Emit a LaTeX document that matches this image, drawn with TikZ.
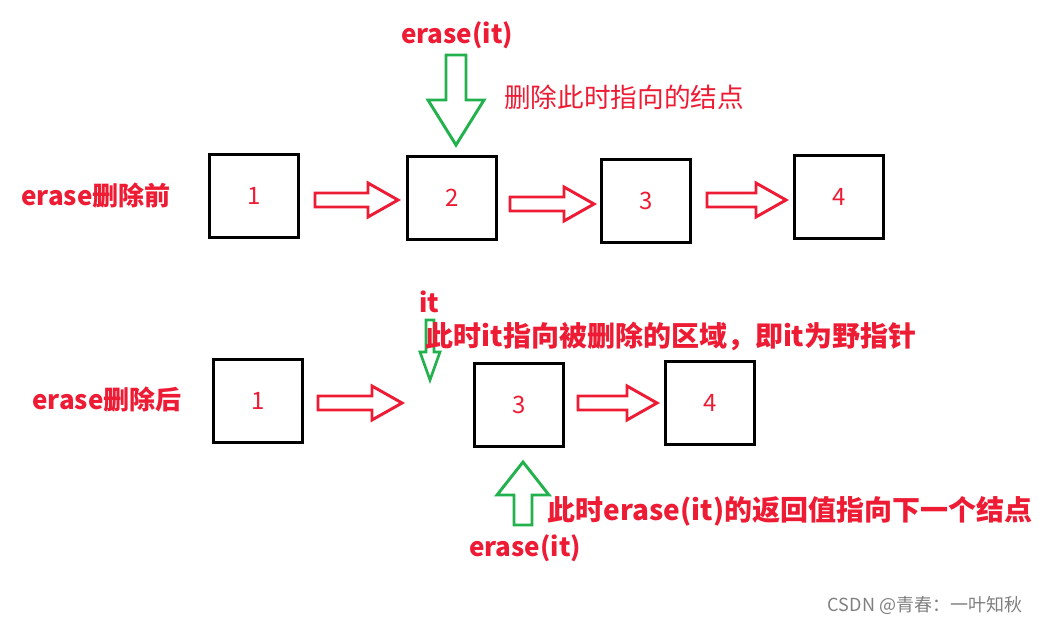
\documentclass[tikz,border=0pt]{standalone}
\usepackage{fontspec}
\setmainfont{Noto Sans CJK SC}
\definecolor{myred}{RGB}{237,28,52}
\definecolor{mygreen}{RGB}{34,177,76}
\newcommand\rarr[3]{\draw[myred,line width=2.2pt,line join=miter] (#1,#2-7) -- ++(#3-30,0) -- ++(0,-10) -- (#1+#3,#2) -- (#1+#3-30,#2+17) -- ++(0,-10) -- (#1,#2+7) -- cycle;}
\tikzset{box/.style={draw,line width=2.5pt,minimum width=67pt,minimum height=62pt,inner sep=0pt,text=myred,font=\fontsize{18}{18}\selectfont},
lab/.style={text=myred,font=\bfseries\fontsize{19.5}{20}\selectfont},
biglab/.style={text=myred,font=\bfseries\fontsize{21}{22}\selectfont},
note/.style={text=myred,font=\fontsize{20}{21}\selectfont}}
\begin{document}
\begin{tikzpicture}[x=0.75pt,y=-0.75pt]
\useasboundingbox (0,0) rectangle (1047,624);
\node[box] (a1) at (254,196) {1};
\node[box] (a2) at (452,198) {2};
\node[box] (a3) at (646,201) {3};
\node[box] (a4) at (839,197) {4};
\node[box] (b1) at (258,401) {1};
\node[box] (b3) at (519,405) {3};
\node[box] (b4) at (710,403) {4};
\rarr{315}{200}{83}
\rarr{510}{204}{84}
\rarr{707}{200}{79}
\rarr{318}{403}{84}
\rarr{578}{403}{79}
\draw[mygreen,line width=2.2pt] (446,55) -- (466,55) -- (466,100) -- (484,100) -- (456,145) -- (428,100) -- (446,100) -- cycle;
\draw[mygreen,line width=2pt] (426,320) -- (434,320) -- (434,352) -- (440,352) -- (430,380) -- (420,352) -- (426,352) -- cycle;
\draw[mygreen,line width=2.2pt] (514,525) -- (532,525) -- (532,495) -- (549,495) -- (523,462) -- (497,495) -- (514,495) -- cycle;
\node[lab] (t1) at (457,35) {erase(it)};
\node[note] (t2) at (624,97) {删除此时指向的结点};
\node[lab] (t3) at (96,196) {erase删除前};
\node[lab] (t4) at (107,400) {erase删除后};
\node[lab] (t5) at (429,302) {it};
\node[biglab] (t6) at (671,336) {此时it指向被删除的区域，即it为野指针};
\node[biglab] (t7) at (790,511) {此时erase(it)的返回值指向下一个结点};
\node[lab] (t8) at (525,548) {erase(it)};
\node[text=gray,font=\fontsize{13.5}{14}\selectfont] (w) at (925,605) {CSDN @青春：一叶知秋};
\end{tikzpicture}
\end{document}
